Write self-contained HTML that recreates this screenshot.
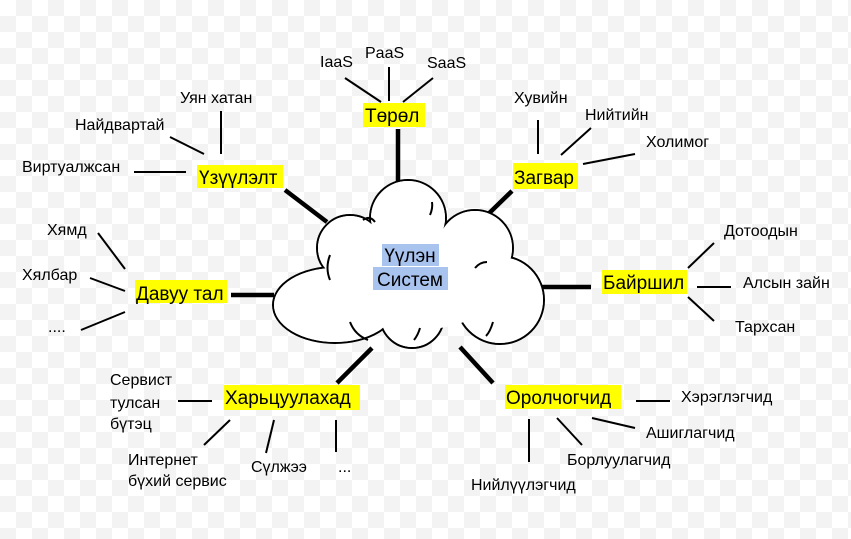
<!DOCTYPE html>
<html><head><meta charset="utf-8"><style>
html,body{margin:0;padding:0;}
body{width:851px;height:534px;overflow:hidden;background-color:#fff;
background-image:linear-gradient(45deg,#f3f3f3 25%,transparent 25%,transparent 75%,#f3f3f3 75%),linear-gradient(45deg,#f3f3f3 25%,transparent 25%,transparent 75%,#f3f3f3 75%);
background-size:32px 32px;background-position:0 0,16px 16px;}
svg text{font-family:"Liberation Sans",sans-serif;fill:#000;}
.s{font-size:16px;}
.b{font-size:19px;}
</style></head><body>
<svg width="851" height="534" viewBox="0 0 851 534" xmlns="http://www.w3.org/2000/svg">
<g stroke="#000" stroke-width="4.5" fill="none">
<line x1="398" y1="129" x2="398" y2="182"/>
<line x1="285" y1="190" x2="327" y2="222"/>
<line x1="512" y1="191" x2="478" y2="224"/>
<line x1="231" y1="295" x2="274" y2="295"/>
<line x1="540" y1="287" x2="591" y2="287"/>
<line x1="337" y1="383" x2="372" y2="348"/>
<line x1="493" y1="383" x2="460" y2="347"/>
</g>
<g stroke="#000" stroke-width="2" fill="#fff">
<circle cx="408" cy="218" r="38"/>
<circle cx="350" cy="248" r="33"/>
<ellipse cx="335" cy="305" rx="62" ry="38"/>
<circle cx="412" cy="316" r="32"/>
<circle cx="500" cy="300" r="44"/>
<circle cx="475" cy="248" r="38"/>
</g>
<g fill="#fff" stroke="none">
<circle cx="408" cy="218" r="37"/>
<circle cx="350" cy="248" r="32"/>
<ellipse cx="335" cy="305" rx="61" ry="37"/>
<circle cx="412" cy="316" r="31"/>
<circle cx="500" cy="300" r="43"/>
<circle cx="475" cy="248" r="37"/>
<ellipse cx="415" cy="280" rx="90" ry="50"/>
</g>
<g stroke="#000" stroke-width="2" fill="none">
<path d="M363 220 Q370 215 375 222"/>
<path d="M430 215 Q433 208 432 202"/>
<path d="M330 280 Q325 268 330 255"/>
<path d="M475 268 Q480 262 487 262"/>
<path d="M350 322 Q355 335 368 340"/>
<path d="M420 328 Q418 335 414 340"/>
<path d="M493 322 Q490 332 486 336"/>
</g>
<rect x="382" y="244" width="57" height="22" fill="#a9c3ef"/>
<rect x="373" y="267" width="75" height="23" fill="#a9c3ef"/>
<text x="410" y="262" text-anchor="middle" style="font-size:19px">Үүлэн</text>
<text x="410" y="286" text-anchor="middle" style="font-size:19px">Систем</text>
<g fill="#ffff00">
<rect x="363" y="103" width="62" height="24"/>
<rect x="197" y="165" width="86" height="23"/>
<rect x="513" y="163" width="65" height="26"/>
<rect x="135" y="280" width="92" height="23"/>
<rect x="602" y="270" width="85" height="24"/>
<rect x="224" y="385" width="136" height="25"/>
<rect x="505" y="385" width="116" height="24"/>
</g>
<text x="365" y="122" class="b">Төрөл</text>
<text x="199" y="184" class="b">Үзүүлэлт</text>
<text x="514" y="184" class="b">Загвар</text>
<text x="136" y="300" class="b">Давуу тал</text>
<text x="603" y="289" class="b">Байршил</text>
<text x="225" y="404" class="b">Харьцуулахад</text>
<text x="506" y="404" class="b">Оролчогчид</text>
<g stroke="#000" stroke-width="2" fill="none">
<line x1="345" y1="78" x2="381" y2="102"/>
<line x1="389" y1="67" x2="389" y2="101"/>
<line x1="433" y1="78" x2="403" y2="102"/>
<line x1="221" y1="111" x2="221" y2="154"/>
<line x1="170" y1="137" x2="204" y2="154"/>
<line x1="134" y1="172" x2="186" y2="172"/>
<line x1="538" y1="120" x2="538" y2="154"/>
<line x1="591" y1="128" x2="561" y2="155"/>
<line x1="635" y1="154" x2="583" y2="164"/>
<line x1="714" y1="243" x2="688" y2="268"/>
<line x1="697" y1="287" x2="731" y2="287"/>
<line x1="688" y1="297" x2="714" y2="321"/>
<line x1="98" y1="233" x2="125" y2="269"/>
<line x1="90" y1="278" x2="125" y2="291"/>
<line x1="81" y1="330" x2="125" y2="312"/>
<line x1="178" y1="401" x2="212" y2="401"/>
<line x1="204" y1="445" x2="230" y2="420"/>
<line x1="266" y1="453" x2="274" y2="420"/>
<line x1="336" y1="452" x2="336" y2="420"/>
<line x1="636" y1="401" x2="670" y2="401"/>
<line x1="592" y1="418" x2="635" y2="428"/>
<line x1="557" y1="418" x2="582" y2="445"/>
<line x1="529" y1="419" x2="529" y2="462"/>
</g>
<g>
<text x="320" y="67" class="s">IaaS</text>
<text x="365" y="58" class="s">PaaS</text>
<text x="427" y="68" class="s">SaaS</text>
<text x="180" y="103" class="s">Уян хатан</text>
<text x="75" y="130" class="s">Найдвартай</text>
<text x="22" y="172" class="s">Виртуалжсан</text>
<text x="514" y="103" class="s">Хувийн</text>
<text x="585" y="120" class="s">Нийтийн</text>
<text x="646" y="147" class="s">Холимог</text>
<text x="724" y="236" class="s">Дотоодын</text>
<text x="743" y="288" class="s">Алсын зайн</text>
<text x="735" y="332" class="s">Тархсан</text>
<text x="47" y="235" class="s">Хямд</text>
<text x="22" y="280" class="s">Хялбар</text>
<text x="48" y="332" class="s">....</text>
<text x="110" y="385" class="s">Сервист</text>
<text x="110" y="408" class="s">тулсан</text>
<text x="110" y="429" class="s">бүтэц</text>
<text x="128" y="465" class="s">Интернет</text>
<text x="128" y="486" class="s">бүхий сервис</text>
<text x="251" y="472" class="s">Сүлжээ</text>
<text x="338" y="472" class="s">...</text>
<text x="681" y="402" class="s">Хэрэглэгчид</text>
<text x="646" y="438" class="s">Ашиглагчид</text>
<text x="567" y="465" class="s">Борлуулагчид</text>
<text x="471" y="490" class="s">Нийлүүлэгчид</text>
</g>
</svg>
</body></html>
